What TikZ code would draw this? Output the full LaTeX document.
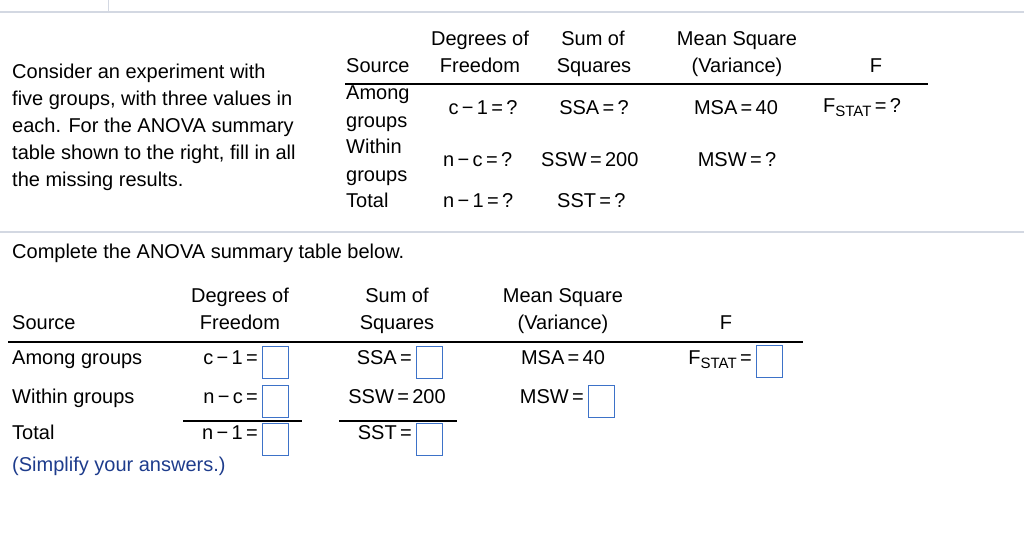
\documentclass[tikz,border=0pt]{standalone}
\usepackage{fontspec}
\setmainfont{Liberation Sans}
\definecolor{sep}{HTML}{D3D8E2}
\definecolor{boxb}{HTML}{3D72C8}
\definecolor{simp}{HTML}{1E3C8C}
\newcommand{\FS}{F\raisebox{-4pt}{\fontsize{15}{15}\selectfont STAT}}
\begin{document}
\begin{tikzpicture}[x=1pt,y=-1pt,
  t/.style={inner sep=0pt,font=\fontsize{20}{24}\selectfont},
  L/.style={t,anchor=mid west},
  R/.style={t,anchor=mid east},
  C/.style={t,anchor=mid},
  ans/.style={draw=boxb,line width=0.8pt,minimum width=26pt,minimum height=32pt,inner sep=0pt},
  rule/.style={line width=1.2pt}]
\useasboundingbox (0,0) rectangle (1024,559);
\draw[sep,line width=1.2pt] (0,12) -- (1024,12);
\draw[sep,line width=1pt] (108,0) -- (108,11);
\draw[sep,line width=1.2pt] (0,232) -- (1024,232);
% description
\node[L] (d1) at (12,76) {Consider an experiment with};
\node[L] (d2) at (12,103) {five groups, with three values in};
\node[L] (d3) at (12,130) {each. For the ANOVA summary};
\node[L] (d4) at (12,157) {table shown to the right, fill in all};
\node[L] (d5) at (12,184) {the missing results.};
% top table
\node[C] (h1) at (480,43) {Degrees of};
\node[C] (h2) at (593,43) {Sum of};
\node[C] (h3) at (737,43) {Mean Square};
\node[L] (h4) at (346,70) {Source};
\node[C] (h5) at (480,70) {Freedom};
\node[C] (h6) at (594,70) {Squares};
\node[C] (h7) at (737,70) {(Variance)};
\node[C] (h8) at (876,70) {F};
\draw[rule] (345,84) -- (928,84);
\node[L] (a1) at (346,97) {Among};
\node[L] (a2) at (346,125) {groups};
\node[C] (a3) at (483,112) {c\,−\,1\,=\,?};
\node[C] (a4) at (594,112) {SSA\,=\,?};
\node[C] (a5) at (736,112) {MSA\,=\,40};
\node[L] (a6) at (823,110) {\FS\,=\,?};
\node[L] (w1) at (346,151) {Within};
\node[L] (w2) at (346,179) {groups};
\node[L] (w3) at (443,164) {n\,−\,c\,=\,?};
\node[L] (w4) at (541,164) {SSW\,=\,200};
\node[C] (w5) at (737,164) {MSW\,=\,?};
\node[L] (s1) at (346,205) {Total};
\node[L] (s2) at (443,205) {n\,−\,1\,=\,?};
\node[L] (s3) at (557,205) {SST\,=\,?};
% bottom
\node[L] (q) at (12,256) {Complete the ANOVA summary table below.};
\node[C] (b1) at (240,300) {Degrees of};
\node[C] (b2) at (397,300) {Sum of};
\node[C] (b3) at (563,300) {Mean Square};
\node[L] (b4) at (12,327) {Source};
\node[C] (b5) at (240,327) {Freedom};
\node[C] (b6) at (397,327) {Squares};
\node[C] (b7) at (563,327) {(Variance)};
\node[C] (b8) at (726,327) {F};
\draw[rule] (8,342) -- (803,342);
\node[L] (r1) at (12,362) {Among groups};
\node[R] (r2) at (258,362) {c\,−\,1\,=};
\node[ans] (x1) at (275,362) {};
\node[R] (r3) at (412,362) {SSA\,=};
\node[ans] (x2) at (429,362) {};
\node[C] (r4) at (563,362) {MSA\,=\,40};
\node[R] (r5) at (752,362) {\FS\,=};
\node[ans] (x3) at (769,361) {};
\node[L] (u1) at (12,401) {Within groups};
\node[R] (u2) at (258,401) {n\,−\,c\,=};
\node[ans] (x4) at (275,401) {};
\node[C] (u3) at (397,401) {SSW\,=\,200};
\node[R] (u4) at (584,401) {MSW\,=};
\node[ans] (x5) at (601,401) {};
\draw[rule] (183,421) -- (302,421);
\draw[rule] (339,421) -- (457,421);
\node[L] (v1) at (12,437) {Total};
\node[R] (v2) at (258,437) {n\,−\,1\,=};
\node[ans] (x6) at (275,439) {};
\node[R] (v3) at (412,437) {SST\,=};
\node[ans] (x7) at (429,439) {};
\node[L,text=simp] (v4) at (12,469) {(Simplify your answers.)};
\end{tikzpicture}
\end{document}
